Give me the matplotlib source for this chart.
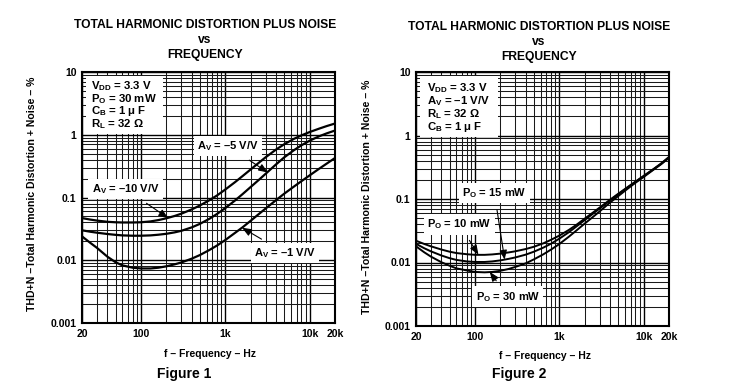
import matplotlib
matplotlib.use('Agg')
import matplotlib.pyplot as plt
from matplotlib.patches import Rectangle
from matplotlib.ticker import FixedLocator, NullFormatter

plt.rcParams['font.family'] = ['Liberation Sans', 'DejaVu Sans']
plt.rcParams['font.weight'] = 'bold'
plt.rcParams['mathtext.fontset'] = 'custom'
plt.rcParams['mathtext.rm'] = 'Liberation Sans:bold'
plt.rcParams['mathtext.it'] = 'Liberation Sans:bold'
plt.rcParams['mathtext.bf'] = 'Liberation Sans:bold'
plt.rcParams['mathtext.default'] = 'rm'

# data (frequency in Hz, THD+N in %)
freq = [20, 25, 30, 40, 50, 60, 80, 100, 130, 160, 200, 250, 300, 400, 500, 650, 800,
        1000, 1300, 1600, 2000, 2500, 3000, 4000, 5000, 6500, 8000, 10000, 13000, 16000, 20000]

# Figure 1: gain
av10 = [0.047, 0.0445, 0.0429, 0.0410, 0.0403, 0.0400, 0.0400, 0.0403, 0.0416, 0.0436, 0.0466,
        0.0507, 0.0551, 0.0646, 0.0746, 0.0908, 0.108, 0.134, 0.175, 0.219, 0.280, 0.358, 0.436,
        0.581, 0.706, 0.859, 0.977, 1.104, 1.253, 1.377, 1.51]
av5 = [0.030, 0.0285, 0.0275, 0.0262, 0.0254, 0.0249, 0.0246, 0.0246, 0.0249, 0.0255, 0.0264,
       0.0278, 0.0294, 0.0334, 0.0380, 0.0459, 0.0548, 0.0678, 0.0893, 0.113, 0.147, 0.191, 0.238,
       0.337, 0.436, 0.566, 0.679, 0.804, 0.946, 1.054, 1.167]
av1 = [0.024, 0.0190, 0.0158, 0.0114, 0.0093, 0.0083, 0.0076, 0.0074, 0.0074, 0.0076, 0.0080,
       0.0086, 0.0092, 0.0106, 0.0121, 0.0146, 0.0172, 0.0210, 0.0272, 0.0334, 0.0426, 0.0545,
       0.0665, 0.0908, 0.115, 0.149, 0.182, 0.225, 0.288, 0.348, 0.426]

# Figure 2: output power
po10 = [0.0220, 0.0196, 0.0180, 0.0160, 0.0148, 0.0141, 0.0135, 0.0132, 0.0132, 0.0134, 0.0138,
        0.0144, 0.0150, 0.0163, 0.0177, 0.0201, 0.0228, 0.0265, 0.0326, 0.0393, 0.0490, 0.0610,
        0.0730, 0.0975, 0.121, 0.155, 0.188, 0.231, 0.294, 0.360, 0.46]
po15 = [0.0197, 0.0168, 0.0150, 0.0129, 0.0117, 0.0110, 0.0104, 0.0102, 0.0102, 0.0104, 0.0108,
        0.0114, 0.0120, 0.0133, 0.0148, 0.0172, 0.0198, 0.0237, 0.0300, 0.0370, 0.0465, 0.0585,
        0.0705, 0.0950, 0.118, 0.152, 0.185, 0.228, 0.292, 0.355, 0.45]
po30 = [0.0180, 0.0145, 0.0124, 0.0101, 0.0089, 0.0081, 0.0075, 0.0071, 0.0070, 0.0071, 0.0074,
        0.0079, 0.0085, 0.0097, 0.0112, 0.0135, 0.0160, 0.0195, 0.0255, 0.0320, 0.0410, 0.0520,
        0.0635, 0.0880, 0.111, 0.146, 0.180, 0.222, 0.287, 0.350, 0.445]

xticks = [20, 100, 1000, 10000, 20000]
xticklabels = ['20', '100', '1k', '10k', '20k']
yticks = [0.001, 0.01, 0.1, 1, 10]
yticklabels = ['0.001', '0.01', '0.1', '1', '10']

cond1 = ['V$_{DD}$ = 3.3 V', 'P$_O$ = 30 mW', 'C$_B$ = 1 \u03bc F', 'R$_L$ = 32 \u03a9']
cond2 = ['V$_{DD}$ = 3.3 V', 'A$_V$ = \u20131 V/V', 'R$_L$ = 32 \u03a9', 'C$_B$ = 1 \u03bc F']

title = 'TOTAL HARMONIC DISTORTION PLUS NOISE\nvs\nFREQUENCY'
ylab = 'THD+N \u2013Total Harmonic Distortion + Noise \u2013 %'
xlab = 'f \u2013 Frequency \u2013 Hz'

W, H = 735, 391
fig = plt.figure(figsize=(W / 100, H / 100), dpi=100)


def px(x0, y0, x1, y1):
    return [x0 / W, 1 - y1 / H, (x1 - x0) / W, (y1 - y0) / H]


def setup(ax):
    ax.set_xscale('log')
    ax.set_yscale('log')
    ax.set_xlim(20, 20000)
    ax.set_ylim(0.001, 10)
    ax.xaxis.set_major_locator(FixedLocator(xticks))
    ax.set_xticklabels(xticklabels)
    ax.yaxis.set_major_locator(FixedLocator(yticks))
    ax.set_yticklabels(yticklabels)
    xm = [m * 10 ** e for e in range(1, 5) for m in range(2, 10)]
    ym = [m * 10.0 ** e for e in range(-3, 1) for m in range(2, 10)]
    ax.xaxis.set_minor_locator(FixedLocator(xm))
    ax.yaxis.set_minor_locator(FixedLocator(ym))
    ax.xaxis.set_minor_formatter(NullFormatter())
    ax.yaxis.set_minor_formatter(NullFormatter())
    ax.tick_params(which='both', length=0, labelsize=7.5, pad=4)
    ax.grid(which='major', color='black', lw=1.0)
    ax.grid(which='minor', color='0.1', lw=0.75)
    for s in ax.spines.values():
        s.set_linewidth(1.5)


def lbl(ax, text, xy, xytext, fs=8):
    ax.annotate(text, xy=xy, xytext=xytext, fontsize=fs, ha='center', va='center',
                bbox=dict(boxstyle='square,pad=0.3', fc='white', ec='none'),
                arrowprops=dict(arrowstyle='-|>,head_length=0.7,head_width=0.28',
                                color='black', lw=0.8, shrinkA=5, shrinkB=0),
                zorder=5)


def condbox(lines, x0, y0, x1, y1, tx, ty):
    # white box over the grid, one text line per condition (ty = baselines)
    fig.add_artist(Rectangle((x0 / W, 1 - y1 / H), (x1 - x0) / W, (y1 - y0) / H,
                             transform=fig.transFigure, fc='white', ec='none', zorder=3))
    for line, y in zip(lines, ty):
        fig.text(tx / W, 1 - y / H, line, ha='left', va='baseline', fontsize=8.2, zorder=4)


# ---- Figure 1
ax1 = fig.add_axes(px(82, 72, 335, 323))
setup(ax1)
for series in (av10, av5, av1):
    ax1.plot(freq, series, color='black', lw=1.6, zorder=4)
condbox(cond1, 86, 76, 163, 134, 91, [89.5, 102, 114.5, 127])
lbl(ax1, 'A$_V$ = \u20135 V/V', (3200, 0.25), (1080, 0.66))
lbl(ax1, 'A$_V$ = \u201310 V/V', (210, 0.047), (66, 0.136))
lbl(ax1, 'A$_V$ = \u20131 V/V', (1580, 0.033), (5100, 0.0131))

fig.text(205 / W, 1 - 40 / H, title, ha='center', va='center', fontsize=8.7, linespacing=1.3)
fig.text(32 / W, 1 - 194 / H, ylab, rotation=90, ha='center', va='center', fontsize=7.6)
fig.text(210 / W, 1 - 354 / H, xlab, ha='center', va='center', fontsize=7.5)
fig.text(184 / W, 1 - 374 / H, 'Figure 1', ha='center', va='center', fontsize=10)

# ---- Figure 2
ax2 = fig.add_axes(px(416, 72, 669, 326))
setup(ax2)
for series in (po10, po15, po30):
    ax2.plot(freq, series, color='black', lw=1.4, zorder=4)
condbox(cond2, 420, 76, 498, 137, 427, [91.5, 104.5, 117, 130])
lbl(ax2, 'P$_O$ = 15 mW', (225, 0.0111), (170, 0.125))
lbl(ax2, 'P$_O$ = 10 mW', (110, 0.0133), (65, 0.040))
lbl(ax2, 'P$_O$ = 30 mW', (150, 0.0071), (245, 0.0029))

fig.text(539 / W, 1 - 42 / H, title, ha='center', va='center', fontsize=8.7, linespacing=1.3)
fig.text(367 / W, 1 - 197 / H, ylab, rotation=90, ha='center', va='center', fontsize=7.6)
fig.text(545 / W, 1 - 356 / H, xlab, ha='center', va='center', fontsize=7.5)
fig.text(519 / W, 1 - 374 / H, 'Figure 2', ha='center', va='center', fontsize=10)

fig.savefig('out.png', dpi=100)
